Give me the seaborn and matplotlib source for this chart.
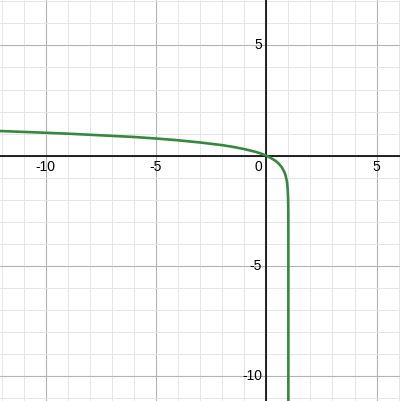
import numpy as np
import pandas as pd
import matplotlib
matplotlib.use("Agg")
import matplotlib.pyplot as plt
import seaborn as sns

# curve points
curve_x = [-12.1, -11, -10, -9, -8, -7, -6, -5, -4, -3, -2, -1.5, -1, -0.5, -0.25, 0,
           0.2, 0.4, 0.5, 0.6, 0.7, 0.8, 0.85, 0.9, 0.93, 0.95, 0.97, 0.98, 0.99,
           0.995, 0.998, 0.999, 0.9999, 1.0]
curve_y = [1.12, 1.08, 1.04, 1.00, 0.95, 0.90, 0.85, 0.78, 0.70, 0.60, 0.48, 0.40, 0.30,
           0.18, 0.10, 0.0, -0.10, -0.22, -0.30, -0.40, -0.52, -0.70, -0.82, -1.0,
           -1.15, -1.30, -1.52, -1.70, -2.0, -2.3, -2.7, -3.0, -4.0, -11.2]

x_ticks = [-10, -5, 5]
y_ticks = [5, -5, -10]
x_range = (-12.07, 6.06)
y_range = (-11.12, 7.06)

sns.set_style("white")
plt.rcParams['font.family'] = ['Liberation Sans', 'DejaVu Sans']

fig = plt.figure(figsize=(4.0, 4.01), dpi=100)
ax = fig.add_axes([0, 0, 1, 1])

# grid: light every unit, darker every 5
for v in range(-12, 7):
    ax.axvline(v, color='#b4b4b4' if v % 5 == 0 else '#e6e6e6', lw=0.8 if v % 5 == 0 else 0.7, zorder=0)
for v in range(-11, 8):
    ax.axhline(v, color='#b4b4b4' if v % 5 == 0 else '#e6e6e6', lw=0.8 if v % 5 == 0 else 0.7, zorder=0)

# axes
ax.axhline(0, color='black', lw=1.2, zorder=1)
ax.axvline(0, color='black', lw=1.2, zorder=1)

df = pd.DataFrame({'x': curve_x, 'y': curve_y})
sns.lineplot(data=df, x='x', y='y', sort=False, estimator=None, color='#338a3e', lw=1.9, ax=ax, zorder=3)

# tick labels
for t in x_ticks:
    ax.text(t, -0.53, str(t), ha='center', va='center', fontsize=10, color='black')
for t in y_ticks:
    ax.text(-0.2, t, str(t), ha='right', va='center', fontsize=10, color='black')
ax.text(-0.2, -0.53, '0', ha='right', va='center', fontsize=10, color='black')

ax.set_xlim(*x_range)
ax.set_ylim(*y_range)
ax.set_xlabel('')
ax.set_ylabel('')
ax.set_xticks([])
ax.set_yticks([])
for s in ax.spines.values():
    s.set_visible(False)

fig.savefig('out.png', dpi=100)
